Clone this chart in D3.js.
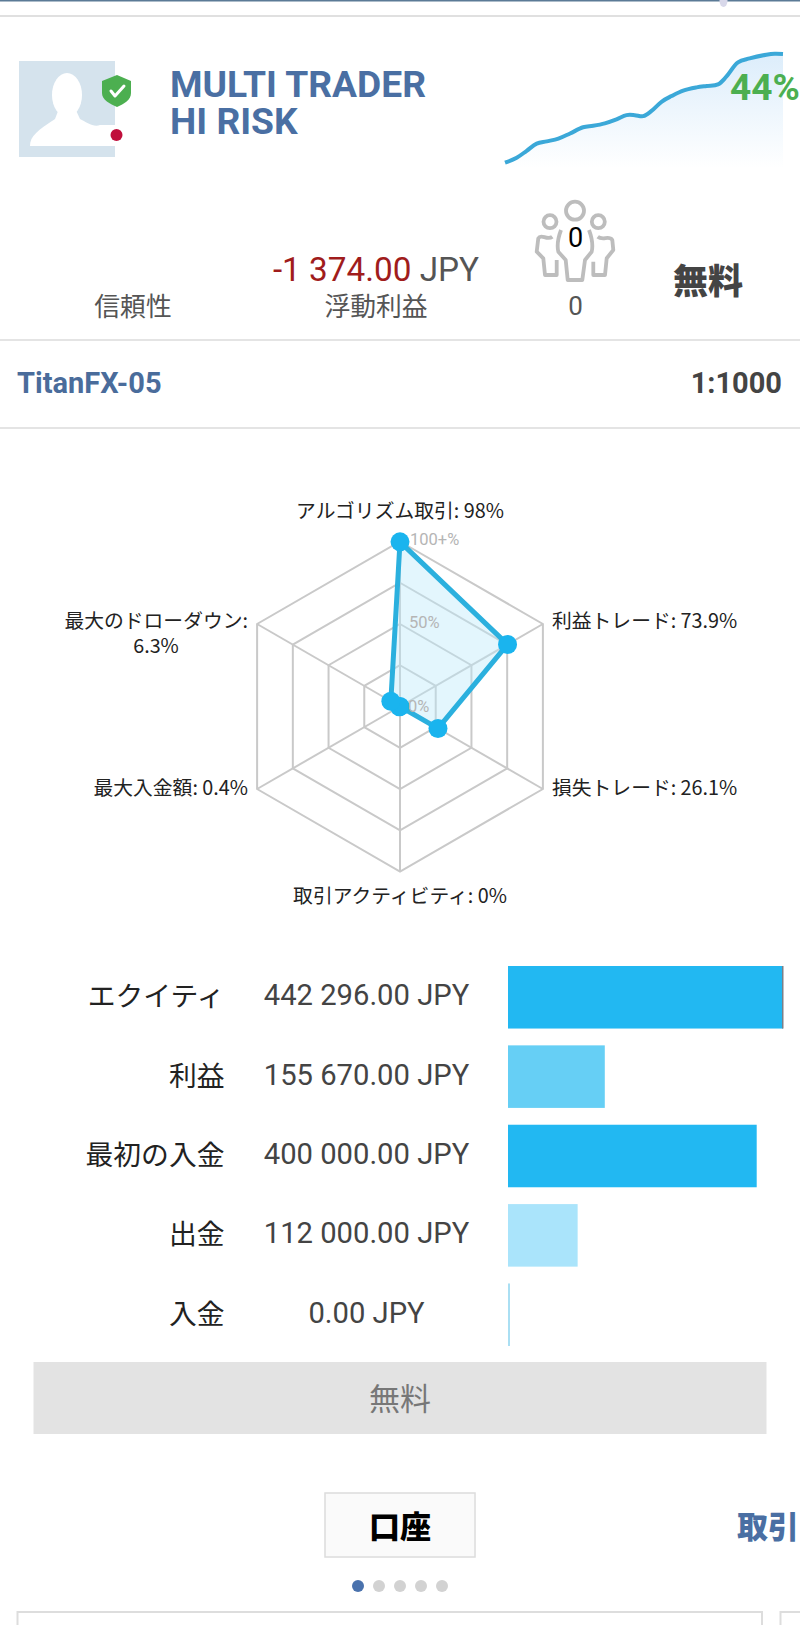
<!DOCTYPE html>
<html>
<head>
<meta charset="utf-8">
<script src="https://cdn.jsdelivr.net/npm/d3@7"></script>
<style>
  html, body { margin: 0; background: #fff; }
  svg { display: block; }
  text { font-family: Roboto, "Noto Sans CJK JP", sans-serif; }
  .cjk { font-family: "Noto Sans CJK JP", sans-serif; }
</style>
</head>
<body>
<div id="chart"></div>
<script>
// sparkline: growth over account life
const sparkTime = [0, 4.2, 7.8, 11.4, 15, 19.2, 23.4, 28.1, 31.7, 35.9, 40.1, 43.7, 46.7, 49.7, 52.7, 56.3, 59.9, 64.1, 68.9, 72.5, 76.6, 79.6, 83.8, 88, 94, 97, 100];
const sparkGrowth = [0, 2, 4.8, 7.7, 8.6, 9.7, 11.8, 14.3, 14.9, 15.9, 17.5, 19.2, 19.2, 18.8, 20.9, 24.6, 26.9, 29.1, 30.4, 31, 31.6, 34.7, 40.5, 42.1, 43.6, 44, 43.9];

// radar, clockwise from the top
const radarLabels = ["アルゴリズム取引: 98%", "利益トレード: 73.9%", "損失トレード: 26.1%", "取引アクティビティ: 0%", "最大入金額: 0.4%", "最大のドローダウン:"];
const radarValues = [98, 73.9, 26.1, 0, 0.4, 6.3];
const radarRings = [25, 50, 75, 100];
const radarTicks = ["0%", "50%", "100+%"];

// bars
const barLabels = ["エクイティ", "利益", "最初の入金", "出金", "入金"];
const barValues = [442296, 155670, 400000, 112000, 0];
const barText = ["442 296.00 JPY", "155 670.00 JPY", "400 000.00 JPY", "112 000.00 JPY", "0.00 JPY"];
const barColors = ["#22b8f2", "#66cff5", "#22b8f2", "#aae4fb", "#aadff3"];

const pagerDots = [0, 1, 2, 3, 4];

const BLUE = "#4a6fa3";
const svg = d3.select("#chart").append("svg").attr("width", 800).attr("height", 1625);

function label(x, y, str, size, color, anchor, weight, cls) {
  return svg.append("text")
    .attr("x", x).attr("y", y)
    .attr("font-size", size)
    .attr("fill", color)
    .attr("text-anchor", anchor || "start")
    .attr("font-weight", weight || 400)
    .attr("class", cls || null)
    .text(str);
}
function hline(y, x1, x2, color, w) {
  svg.append("line").attr("x1", x1).attr("x2", x2).attr("y1", y).attr("y2", y)
    .attr("stroke", color).attr("stroke-width", w);
}

// page furniture
hline(0.5, 0, 800, "#5b7a96", 2);
hline(16, 0, 800, "#e0e0e0", 2);
hline(340, 0, 800, "#e4e4e4", 2);
hline(428, 0, 800, "#e4e4e4", 2);
svg.append("ellipse").attr("cx", 723.5).attr("cy", 1).attr("rx", 4).attr("ry", 6).attr("fill", "#d8d8ea");

// avatar
const avatar = svg.append("g");
avatar.append("rect").attr("x", 19).attr("y", 61).attr("width", 96).attr("height", 96).attr("fill", "#d5e3ed");
avatar.append("ellipse").attr("cx", 67).attr("cy", 95).attr("rx", 15).attr("ry", 22).attr("fill", "#fff");
avatar.append("path").attr("fill", "#fff")
  .attr("d", "M30 146 C30 136 38 130 55 119 L60 106 L74 106 L80 119 C86 122 94 128 100 125 L115 125 L115 146 Z");
avatar.append("path").attr("fill", "#4caf50")
  .attr("d", "M117 75 L131 81 L131 93 C131 100 124 104 117 107 C110 104 102 100 102 93 L102 81 Z");
avatar.append("path").attr("fill", "none").attr("stroke", "#fff").attr("stroke-width", 3)
  .attr("stroke-linecap", "round").attr("stroke-linejoin", "round")
  .attr("d", "M111 91 L115 96 L124 86");
avatar.append("circle").attr("cx", 116.5).attr("cy", 135).attr("r", 6).attr("fill", "#c00f3c");

label(170, 97, "MULTI TRADER", 37.2, BLUE, "start", 700);
label(170, 134, "HI RISK", 37.2, BLUE, "start", 700);

// sparkline
const sparkX = d3.scaleLinear().domain([0, 100]).range([505, 783]);
const sparkY = d3.scaleLinear().domain([0, 44]).range([162.7, 53.7]);
const sparkIdx = d3.range(sparkTime.length);
const grad = svg.append("defs").append("linearGradient").attr("id", "sparkFill")
  .attr("x1", 0).attr("y1", 0).attr("x2", 0).attr("y2", 1);
grad.append("stop").attr("offset", "0%").attr("stop-color", "#dcedfb");
grad.append("stop").attr("offset", "100%").attr("stop-color", "#ffffff");
svg.append("path")
  .attr("fill", "url(#sparkFill)")
  .attr("d", d3.area().x(i => sparkX(sparkTime[i])).y0(168).y1(i => sparkY(sparkGrowth[i])).curve(d3.curveCatmullRom)(sparkIdx));
svg.append("path")
  .attr("fill", "none").attr("stroke", "#3ba8d8").attr("stroke-width", 4)
  .attr("d", d3.line().x(i => sparkX(sparkTime[i])).y(i => sparkY(sparkGrowth[i])).curve(d3.curveCatmullRom)(sparkIdx));
label(730, 100, "44%", 37, "#4caf50", "start", 700);

// stats row
label(133, 316, "信頼性", 25.8, "#555", "middle", 400, "cjk");
label(376, 316, "浮動利益", 25.8, "#555", "middle", 400, "cjk");
const pnl = label(376, 281, "", 33.3, "#555", "middle");
pnl.append("tspan").attr("fill", "#a01c1c").text("-1 374.00");
pnl.append("tspan").text(" JPY");
label(575.5, 315, "0", 26, "#555", "middle");
label(708, 294, "無料", 35, "#444", "middle", 900, "cjk");

// subscribers icon
const people = svg.append("g").attr("fill", "none").attr("stroke", "#bdbdbd").attr("stroke-width", 3.8).attr("stroke-linejoin", "round");
people.append("circle").attr("cx", 575).attr("cy", 210.7).attr("r", 9);
people.append("circle").attr("cx", 550).attr("cy", 221.7).attr("r", 6.5);
people.append("circle").attr("cx", 598.3).attr("cy", 221.7).attr("r", 6.5);
people.append("path").attr("d", "M561 230 C558 238 557 246 558.3 251.7 L565.7 260 L567.7 280 L582.3 280 L585 260 L591.7 251.7 C593 246 592 238 589 230");
people.append("path").attr("d", "M552.3 236.7 C547 241 541 233 538.3 238.3 L536.7 251.7 L543.3 258.3 L545 275 L556.7 275 L556.7 260");
people.append("path").attr("d", "M597.7 236.7 C603 241 609 235 612.3 240 L613.3 250 L606.7 258.3 L605 275 L593.3 275 L593.3 261.7");
label(575.5, 247, "0", 27, "#000", "middle");

// server row
label(17, 393, "TitanFX-05", 29, "#4a6c9b", "start", 700);
label(782, 393, "1:1000", 29, "#444", "end", 700);

// radar: the plotted polygon runs a little past the grid scale
const cx = 400, cy = 706.5, radarR = 165;
const r = d3.scaleLinear().domain([0, 100]).range([0, radarR]);
const rMark = d3.scaleLinear().domain([0, 100]).range([0, 168]);
const ang = i => i * Math.PI / 3;
const radial = d3.lineRadial().curve(d3.curveLinearClosed);
const radar = svg.append("g").attr("transform", `translate(${cx},${cy})`);

radar.selectAll(".ring").data(radarRings).join("path")
  .attr("class", "ring").attr("fill", "none").attr("stroke", "#c9c9c9").attr("stroke-width", 2)
  .attr("d", d => radial(d3.range(6).map(i => [ang(i), r(d)])));
radar.selectAll(".spoke").data(d3.range(6)).join("line")
  .attr("class", "spoke").attr("stroke", "#c9c9c9").attr("stroke-width", 2)
  .attr("x2", i => r(100) * Math.sin(ang(i)))
  .attr("y2", i => -r(100) * Math.cos(ang(i)));

label(410, 545, radarTicks[2], 16.5, "#b5b5b5");
label(409, 628, radarTicks[1], 16.5, "#b5b5b5");
label(408, 712, radarTicks[0], 16.5, "#b5b5b5");

radar.append("path")
  .attr("fill", "#bdeafb").attr("fill-opacity", 0.42)
  .attr("stroke", "#2bb0de").attr("stroke-width", 5).attr("stroke-linejoin", "round")
  .attr("d", radial(radarValues.map((v, i) => [ang(i), rMark(v)])));
radar.selectAll(".pt").data(radarValues).join("circle")
  .attr("class", "pt").attr("r", 9.5).attr("fill", "#1ab4ee")
  .attr("cx", (v, i) => rMark(v) * Math.sin(ang(i)))
  .attr("cy", (v, i) => -rMark(v) * Math.cos(ang(i)));

const RL = 19.8;
label(400, 518, radarLabels[0], RL, "#222", "middle", 400, "cjk");
label(552, 628, radarLabels[1], RL, "#222", "start", 400, "cjk");
label(552, 795, radarLabels[2], RL, "#222", "start", 400, "cjk");
label(400, 903, radarLabels[3], RL, "#222", "middle", 400, "cjk");
label(248, 795, radarLabels[4], RL, "#222", "end", 400, "cjk");
label(248, 628, radarLabels[5], RL, "#222", "end", 400, "cjk");
label(156, 653, "6.3%", RL, "#222", "middle", 400, "cjk");

// horizontal bars
const barX = d3.scaleLinear().domain([0, d3.max(barValues)]).range([508, 783]);
const barY = d3.scaleBand().domain(barLabels).range([966, 1346]).paddingInner(0.212);
const bars = svg.append("g");
bars.selectAll("rect").data(barLabels).join("rect")
  .attr("x", barX(0))
  .attr("y", d => barY(d))
  .attr("height", barY.bandwidth())
  .attr("width", (d, i) => Math.max(2, barX(barValues[i]) - barX(0)))
  .attr("fill", (d, i) => barColors[i]);
svg.append("rect").attr("x", barX(barValues[0]) - 1).attr("y", barY(barLabels[0]))
  .attr("width", 1.5).attr("height", barY.bandwidth()).attr("fill", "#7a7f88");

barLabels.forEach((d, i) => {
  const mid = barY(d) + barY.bandwidth() / 2;
  label(224.5, mid + 9, d, 27.8, "#222", "end", 400, "cjk");
  label(366.5, mid + 8, barText[i], 29.2, "#444", "middle");
});

// free button
svg.append("rect").attr("x", 33.5).attr("y", 1362).attr("width", 733).attr("height", 72).attr("fill", "#e3e3e3");
label(400, 1410, "無料", 31, "#777", "middle", 400, "cjk");

// tabs
svg.append("rect").attr("x", 325).attr("y", 1493).attr("width", 150).attr("height", 64)
  .attr("fill", "#fafafa").attr("stroke", "#dcdcdc").attr("stroke-width", 1.5);
label(400, 1538, "口座", 31, "#000", "middle", 900, "cjk");
label(737, 1538, "取引", 31, BLUE, "start", 900, "cjk");

// pager
const dotX = d3.scalePoint().domain(pagerDots).range([358, 442]);
svg.selectAll(".dot").data(pagerDots).join("circle")
  .attr("class", "dot").attr("cx", d => dotX(d)).attr("cy", 1586).attr("r", 6)
  .attr("fill", d => d === 0 ? "#4a72ad" : "#d2d2d2");

// cards cut off by the window
svg.append("path").attr("fill", "none").attr("stroke", "#dddddd").attr("stroke-width", 2)
  .attr("d", "M17.5 1626 L17.5 1612 L762 1612 L762 1626 M801 1612 L780.5 1612 L780.5 1626");
</script>
</body>
</html>
